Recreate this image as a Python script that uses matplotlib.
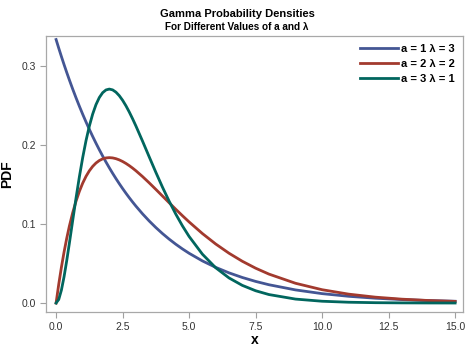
import matplotlib
matplotlib.use("Agg")
import matplotlib.pyplot as plt

plt.rcParams['font.family'] = ['Liberation Sans', 'DejaVu Sans']

x = [0, 0.1, 0.2, 0.3, 0.4, 0.5, 0.625, 0.75, 0.875, 1, 1.125, 1.25, 1.375, 1.5, 1.625,
     1.75, 1.875, 2, 2.125, 2.25, 2.375, 2.5, 2.625, 2.75, 2.875, 3, 3.25, 3.5, 3.75, 4,
     4.25, 4.5, 4.75, 5, 5.5, 6, 6.5, 7, 7.5, 8, 9, 10, 11, 12, 13, 14, 15]

pdf_a1 = [0.333333, 0.322405, 0.311836, 0.301612, 0.291724, 0.282161, 0.270645, 0.259600,
          0.249006, 0.238844, 0.229096, 0.219747, 0.210779, 0.202177, 0.193926, 0.186012,
          0.178420, 0.171139, 0.164155, 0.157456, 0.151030, 0.144866, 0.138954, 0.133284,
          0.127844, 0.122626, 0.112822, 0.103801, 0.095502, 0.087866, 0.080840, 0.074377,
          0.068430, 0.062959, 0.053293, 0.045112, 0.038186, 0.032324, 0.027362, 0.023161,
          0.016596, 0.011891, 0.008520, 0.006105, 0.004375, 0.003135, 0.002246]

pdf_a2 = [0, 0.023781, 0.045242, 0.064553, 0.081873, 0.097350, 0.114315, 0.128867,
          0.141236, 0.151633, 0.160252, 0.167269, 0.172849, 0.177138, 0.180272, 0.182377,
          0.183565, 0.183940, 0.183595, 0.182617, 0.181084, 0.179066, 0.176628, 0.173828,
          0.170717, 0.167348, 0.159991, 0.152052, 0.143770, 0.135335, 0.126898, 0.118574,
          0.110454, 0.102606, 0.087901, 0.074681, 0.063008, 0.052845, 0.044096, 0.036632,
          0.024995, 0.016845, 0.011239, 0.007437, 0.004885, 0.003192, 0.002074]

pdf_a3 = [0, 0.004524, 0.016375, 0.033337, 0.053626, 0.075816, 0.104543, 0.132853,
          0.159580, 0.183940, 0.205444, 0.223832, 0.239013, 0.251021, 0.259986, 0.266092,
          0.269570, 0.270671, 0.269657, 0.266791, 0.262329, 0.256516, 0.249579, 0.241728,
          0.233157, 0.224042, 0.204775, 0.184957, 0.165361, 0.146525, 0.128822, 0.112479,
          0.097605, 0.084224, 0.061816, 0.044618, 0.031756, 0.022341, 0.015555, 0.010735,
          0.004998, 0.00227, 0.00101, 0.00044, 0.00019, 0.00008, 0.00003]

labels = ['a = 1 \u03bb = 3', 'a = 2 \u03bb = 2', 'a = 3 \u03bb = 1']
colors = ['#445694', '#A23A2E', '#01665E']
xticks = [0.0, 2.5, 5.0, 7.5, 10.0, 12.5, 15.0]
yticks = [0.0, 0.1, 0.2, 0.3]

fig = plt.figure(figsize=(4.74, 3.55), dpi=100)
ax = fig.add_axes([0.097, 0.121, 0.88, 0.778])

for ys, lab, c in zip([pdf_a1, pdf_a2, pdf_a3], labels, colors):
    ax.plot(x, ys, color=c, lw=2.0, label=lab, solid_joinstyle='round')

ax.set_xlim(-0.38, 15.3)
ax.set_ylim(-0.0114, 0.338)
ax.set_xticks(xticks)
ax.set_xticklabels([f'{t:.1f}' for t in xticks])
ax.set_yticks(yticks)
ax.set_yticklabels([f'{t:.1f}' for t in yticks])
ax.tick_params(axis='both', direction='out', length=4, width=0.8, color='#A0A0A0',
               labelsize=7.5, labelcolor='#333333', pad=3)
for s in ax.spines.values():
    s.set_color('#A8A8A8')
    s.set_linewidth(0.9)

ax.set_xlabel('x', fontsize=10, fontweight='bold', labelpad=1)
ax.set_ylabel('PDF', fontsize=10, fontweight='bold')
ax.yaxis.set_label_coords(-0.077, 0.5)

fig.text(0.5, 0.960, 'Gamma Probability Densities', ha='center', va='center',
         fontsize=8, fontweight='bold')
fig.text(0.5, 0.925, 'For Different Values of a and \u03bb', ha='center', va='center',
         fontsize=7.2, fontweight='bold')

leg = ax.legend(loc='upper right', frameon=False, handlelength=3.4,
                handletextpad=0.35, labelspacing=0.45, borderaxespad=0.3,
                prop={'weight': 'bold', 'size': 8})

fig.savefig('out.png', dpi=100)
